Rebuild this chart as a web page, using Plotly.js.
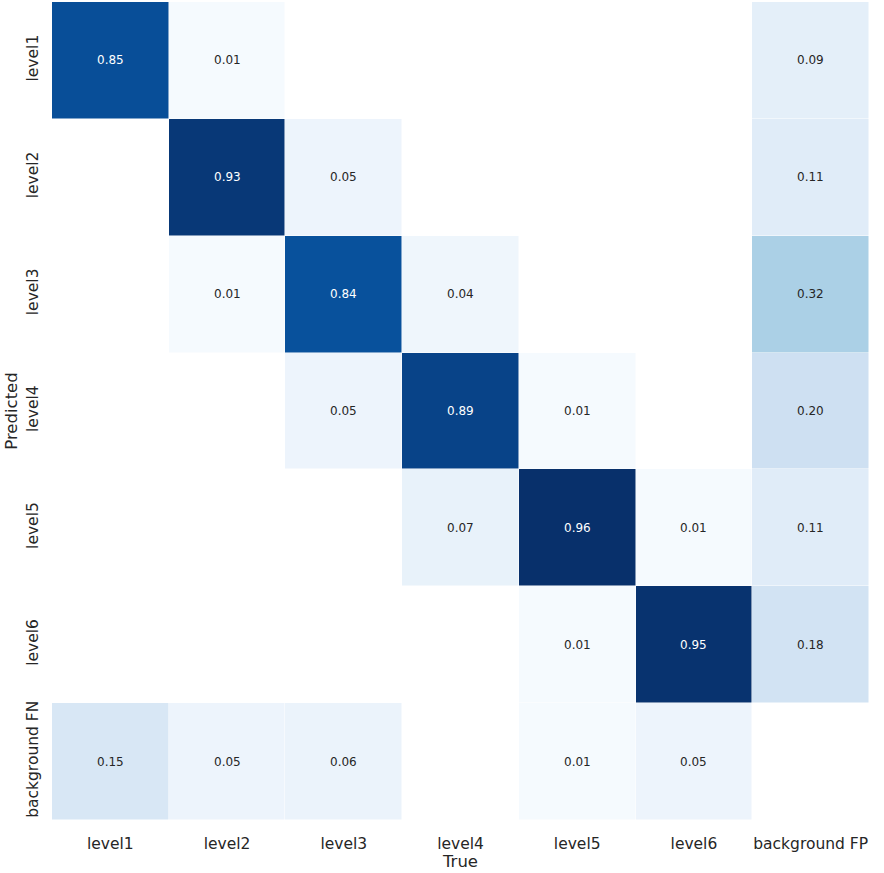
<!DOCTYPE html>
<html>
<head>
<meta charset="utf-8">
<script src="https://cdn.plot.ly/plotly-3.0.1.min.js"></script>
<style>html,body{margin:0;padding:0;background:#fff;}</style>
</head>
<body>
<div id="chart" style="width:884px;height:873px;"></div>
<script>
const trueLabels = ["level1","level2","level3","level4","level5","level6","background FP"];
const predLabels = ["level1","level2","level3","level4","level5","level6","background FN"];
const rowLevel1 = [0.85, 0.01, null, null, null, null, 0.09];
const rowLevel2 = [null, 0.93, 0.05, null, null, null, 0.11];
const rowLevel3 = [null, 0.01, 0.84, 0.04, null, null, 0.32];
const rowLevel4 = [null, null, 0.05, 0.89, 0.01, null, 0.20];
const rowLevel5 = [null, null, null, 0.07, 0.96, 0.01, 0.11];
const rowLevel6 = [null, null, null, null, 0.01, 0.95, 0.18];
const rowBackgroundFN = [0.15, 0.05, 0.06, null, 0.01, 0.05, null];

const z = [rowLevel1, rowLevel2, rowLevel3, rowLevel4, rowLevel5, rowLevel6, rowBackgroundFN];
const zMax = Math.max(...z.flat().filter(v => v !== null));

const blues = [
  [0, "#f7fbff"], [0.125, "#deebf7"], [0.25, "#c6dbef"], [0.375, "#9ecae1"],
  [0.5, "#6baed6"], [0.625, "#4292c6"], [0.75, "#2171b5"], [0.875, "#08519c"], [1, "#08306b"]
];

const annotations = [];
z.forEach((row, i) => {
  row.forEach((v, j) => {
    if (v === null) return;
    annotations.push({
      x: trueLabels[j], y: predLabels[i], xref: "x", yref: "y",
      text: v.toFixed(2), showarrow: false,
      font: {family: "DejaVu Sans", size: 12, color: v > 0.5 ? "#ffffff" : "#262626"}
    });
  });
});

const trace = {
  type: "heatmap",
  x: trueLabels,
  y: predLabels,
  z: z,
  zmin: 0, zmax: zMax,
  colorscale: blues,
  showscale: false,
  hoverongaps: false,
  xgap: 0.5, ygap: 0.5
};

const layout = {
  width: 884, height: 873,
  margin: {l: 52, r: 15, t: 2, b: 53},
  paper_bgcolor: "#ffffff", plot_bgcolor: "#ffffff",
  font: {family: "DejaVu Sans", color: "#262626"},
  xaxis: {
    type: "category", showgrid: false, zeroline: false, ticks: "",
    ticklabelstandoff: 12,
    tickfont: {size: 15.5, color: "#262626"},
    title: {text: "True", font: {size: 16.5, color: "#262626"}, standoff: 2}
  },
  yaxis: {
    type: "category", autorange: "reversed", showgrid: false, zeroline: false, ticks: "",
    tickangle: -90,
    ticklabelstandoff: 10,
    tickfont: {size: 15.5, color: "#262626"},
    title: {text: "Predicted", font: {size: 16.5, color: "#262626"}, standoff: 2}
  },
  annotations: annotations
};

Plotly.newPlot("chart", [trace], layout, {displayModeBar: false, staticPlot: true});
</script>
</body>
</html>
